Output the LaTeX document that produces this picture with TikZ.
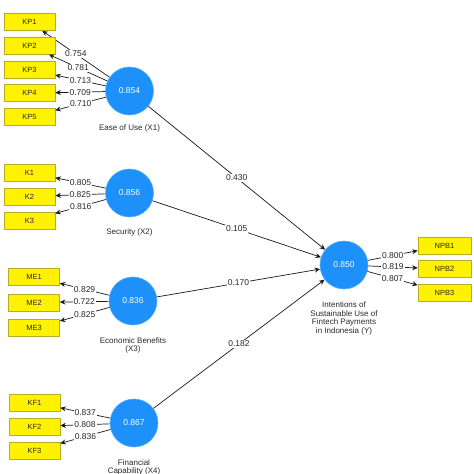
\documentclass[tikz,border=0pt]{standalone}
\usepackage{fontspec}
\setmainfont{Liberation Sans}
\usetikzlibrary{arrows.meta,positioning}

\begin{document}
\begin{tikzpicture}[x=1pt,y=-1pt,
    latent/.style={circle, draw=circedge, line width=0.6pt, fill=circfill, minimum size=48pt, inner sep=0pt, text=white, font=\fontsize{8.5}{9}\selectfont},
    indicator/.style={draw=boxedge, line width=0.6pt, fill=boxfill, minimum width=51pt, minimum height=17pt, inner sep=0pt, text=txtcol, font=\fontsize{7.5}{8}\selectfont},
    caption/.style={align=center, inner sep=1pt, text=txtcol, font=\fontsize{8}{8.5}\selectfont},
    coef/.style={fill=white, inner sep=1pt, text=txtcol, font=\fontsize{8.5}{9}\selectfont},
    loading/.style={draw=linecol, line width=0.7pt, -{Stealth[length=5.5pt,width=5pt]}}
  ]
  % Define colors
  \definecolor{circfill}{RGB}{30,144,250}
  \definecolor{circedge}{RGB}{90,175,250}
  \definecolor{boxfill}{RGB}{255,242,0}
  \definecolor{boxedge}{RGB}{185,170,40}
  \definecolor{txtcol}{RGB}{40,40,40}
  \definecolor{linecol}{RGB}{25,25,25}

  \useasboundingbox (0,0) rectangle (474,474);

  % Latent variables
  \node[latent] (X1) at (129.5,91) {0.854};
  \node[latent] (X2) at (129.5,193) {0.856};
  \node[latent] (X3) at (133,301) {0.836};
  \node[latent] (X4) at (134,423) {0.867};
  \node[latent] (Y) at (344,265) {0.850};

  % Captions
  \node[caption, below=8.5pt of X1] (capX1) {Ease of Use (X1)};
  \node[caption, below=10.5pt of X2] (capX2) {Security (X2)};
  \node[caption, below=11pt of X3] (capX3) {Economic Benefits\\(X3)};
  \node[caption, below=11pt of X4] (capX4) {Financial\\Capability (X4)};
  \node[caption, below=11.5pt of Y] (capY) {Intentions of\\Sustainable Use of\\Fintech Payments\\in Indonesia (Y)};

  % Indicators of X1
  \foreach \i/\v in {1/0.754,2/0.781,3/0.713,4/0.709,5/0.710} {
    \node[indicator] (KP\i) at (29.5,{22+23.75*(\i-1)}) {KP\i};
    \draw[loading] (X1) -- node[coef] {\v} (KP\i);
  }

  % Indicators of X2
  \foreach \i/\v in {1/0.805,2/0.825,3/0.816} {
    \node[indicator] (K\i) at (29.5,{172.5+24*(\i-1)}) {K\i};
    \draw[loading] (X2) -- node[coef] {\v} (K\i);
  }

  % Indicators of X3
  \foreach \i/\v in {1/0.829,2/0.722,3/0.825} {
    \node[indicator] (ME\i) at (34,{277+25.5*(\i-1)}) {ME\i};
    \draw[loading] (X3) -- node[coef] {\v} (ME\i);
  }

  % Indicators of X4
  \foreach \i/\v in {1/0.837,2/0.808,3/0.836} {
    \node[indicator] (KF\i) at (34.5,{402.5+24*(\i-1)}) {KF\i};
    \draw[loading] (X4) -- node[coef] {\v} (KF\i);
  }

  % Indicators of Y
  \foreach \i/\v in {1/0.800,2/0.819,3/0.807} {
    \node[indicator, minimum width=53pt] (NPB\i) at (444.5,{245.5+23.5*(\i-1)}) {NPB\i};
    \draw[loading] (Y) -- node[coef] {\v} (NPB\i);
  }

  % Path coefficients
  \foreach \src/\v in {X1/0.430,X2/0.105,X3/0.170,X4/0.182} {
    \draw[loading] (\src) -- node[coef] {\v} (Y);
  }
\end{tikzpicture}
\end{document}
